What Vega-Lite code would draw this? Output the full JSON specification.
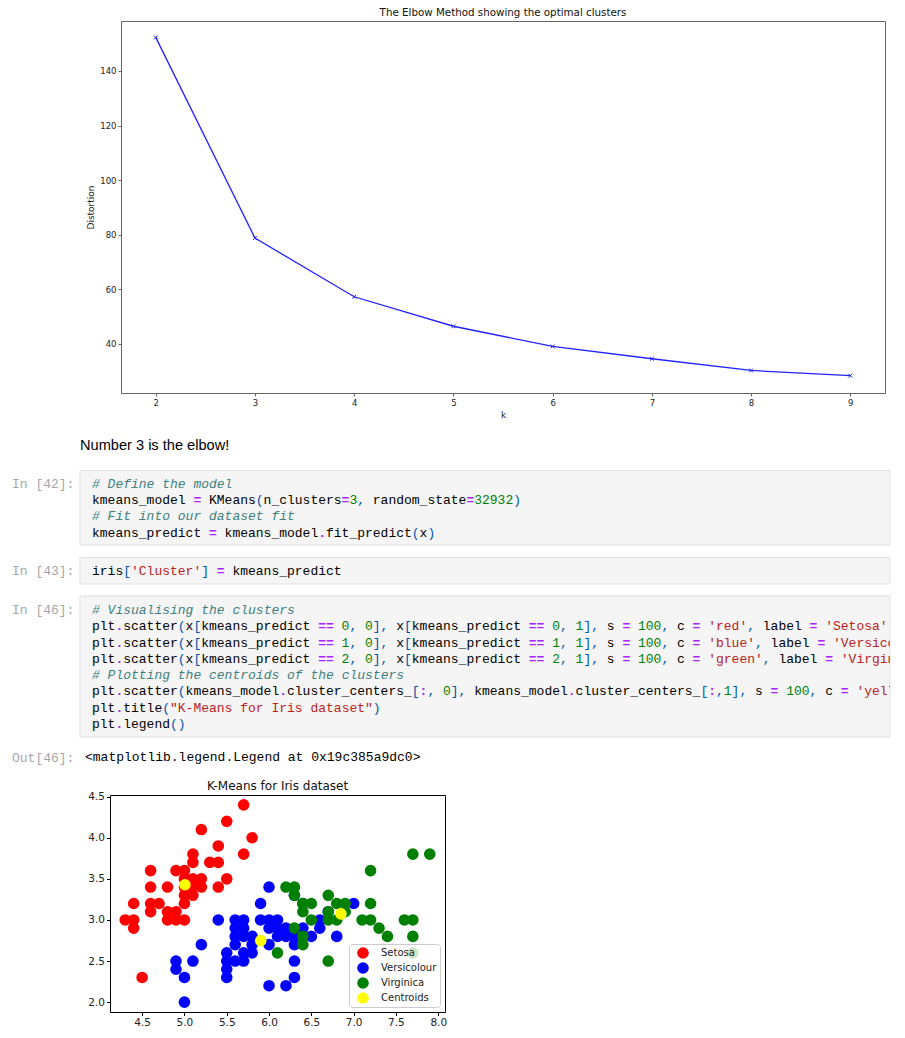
{
  "$schema": "https://vega.github.io/schema/vega-lite/v6.json",
  "background": "white",
  "padding": 0,
  "bounds": "flush",
  "spacing": 0,
  "config": {
    "view": {"stroke": null},
    "axis": {"grid": false, "labelFont": "DejaVu Sans", "titleFont": "DejaVu Sans", "titleFontWeight": "normal", "labelColor": "#222", "titleColor": "#222", "labelFlush": false, "labelOverlap": false}
  },
  "resolve": {"scale": {"color": "independent"}},
  "datasets": {
    "elbow": [
      {"k": 2, "distortion": 152.3},
      {"k": 3, "distortion": 78.8},
      {"k": 4, "distortion": 57.3},
      {"k": 5, "distortion": 46.5},
      {"k": 6, "distortion": 39.1},
      {"k": 7, "distortion": 34.6},
      {"k": 8, "distortion": 30.3},
      {"k": 9, "distortion": 28.4}
    ],
    "tokens": [
      {"cell": "md", "line": 0, "col": 0, "text": "Number 3 is the elbow!", "kind": "code"},

      {"cell": "42", "line": 0, "col": -10.26, "text": "In [42]:", "kind": "prompt"},
      {"cell": "42", "line": 0, "col": 0, "text": "# Define the model", "kind": "comment"},
      {"cell": "42", "line": 1, "col": 0, "text": "kmeans_model", "kind": "code"},
      {"cell": "42", "line": 1, "col": 13, "text": "=", "kind": "op"},
      {"cell": "42", "line": 1, "col": 15, "text": "KMeans", "kind": "code"},
      {"cell": "42", "line": 1, "col": 21, "text": "(", "kind": "paren"},
      {"cell": "42", "line": 1, "col": 22, "text": "n_clusters", "kind": "code"},
      {"cell": "42", "line": 1, "col": 32, "text": "=", "kind": "op"},
      {"cell": "42", "line": 1, "col": 33, "text": "3", "kind": "num"},
      {"cell": "42", "line": 1, "col": 34, "text": ",", "kind": "paren"},
      {"cell": "42", "line": 1, "col": 36, "text": "random_state", "kind": "code"},
      {"cell": "42", "line": 1, "col": 48, "text": "=", "kind": "op"},
      {"cell": "42", "line": 1, "col": 49, "text": "32932", "kind": "num"},
      {"cell": "42", "line": 1, "col": 54, "text": ")", "kind": "paren"},
      {"cell": "42", "line": 2, "col": 0, "text": "# Fit into our dataset fit", "kind": "comment"},
      {"cell": "42", "line": 3, "col": 0, "text": "kmeans_predict", "kind": "code"},
      {"cell": "42", "line": 3, "col": 15, "text": "=", "kind": "op"},
      {"cell": "42", "line": 3, "col": 17, "text": "kmeans_model", "kind": "code"},
      {"cell": "42", "line": 3, "col": 29, "text": ".", "kind": "op"},
      {"cell": "42", "line": 3, "col": 30, "text": "fit_predict", "kind": "code"},
      {"cell": "42", "line": 3, "col": 41, "text": "(", "kind": "paren"},
      {"cell": "42", "line": 3, "col": 42, "text": "x", "kind": "code"},
      {"cell": "42", "line": 3, "col": 43, "text": ")", "kind": "paren"},

      {"cell": "43", "line": 0, "col": -10.26, "text": "In [43]:", "kind": "prompt"},
      {"cell": "43", "line": 0, "col": 0, "text": "iris", "kind": "code"},
      {"cell": "43", "line": 0, "col": 4, "text": "[", "kind": "paren"},
      {"cell": "43", "line": 0, "col": 5, "text": "'Cluster'", "kind": "str"},
      {"cell": "43", "line": 0, "col": 14, "text": "]", "kind": "paren"},
      {"cell": "43", "line": 0, "col": 16, "text": "=", "kind": "op"},
      {"cell": "43", "line": 0, "col": 18, "text": "kmeans_predict", "kind": "code"},

      {"cell": "46", "line": 0, "col": -10.26, "text": "In [46]:", "kind": "prompt"},
      {"cell": "46", "line": 0, "col": 0, "text": "# Visualising the clusters", "kind": "comment"},

      {"cell": "46", "line": 1, "col": 0, "text": "plt", "kind": "code"},
      {"cell": "46", "line": 1, "col": 3, "text": ".", "kind": "op"},
      {"cell": "46", "line": 1, "col": 4, "text": "scatter", "kind": "code"},
      {"cell": "46", "line": 1, "col": 11, "text": "(", "kind": "paren"},
      {"cell": "46", "line": 1, "col": 12, "text": "x", "kind": "code"},
      {"cell": "46", "line": 1, "col": 13, "text": "[", "kind": "paren"},
      {"cell": "46", "line": 1, "col": 14, "text": "kmeans_predict", "kind": "code"},
      {"cell": "46", "line": 1, "col": 29, "text": "==", "kind": "op"},
      {"cell": "46", "line": 1, "col": 32, "text": "0", "kind": "num"},
      {"cell": "46", "line": 1, "col": 33, "text": ",", "kind": "paren"},
      {"cell": "46", "line": 1, "col": 35, "text": "0", "kind": "num"},
      {"cell": "46", "line": 1, "col": 36, "text": "],", "kind": "paren"},
      {"cell": "46", "line": 1, "col": 39, "text": "x", "kind": "code"},
      {"cell": "46", "line": 1, "col": 40, "text": "[", "kind": "paren"},
      {"cell": "46", "line": 1, "col": 41, "text": "kmeans_predict", "kind": "code"},
      {"cell": "46", "line": 1, "col": 56, "text": "==", "kind": "op"},
      {"cell": "46", "line": 1, "col": 59, "text": "0", "kind": "num"},
      {"cell": "46", "line": 1, "col": 60, "text": ",", "kind": "paren"},
      {"cell": "46", "line": 1, "col": 62, "text": "1", "kind": "num"},
      {"cell": "46", "line": 1, "col": 63, "text": "],", "kind": "paren"},
      {"cell": "46", "line": 1, "col": 66, "text": "s", "kind": "code"},
      {"cell": "46", "line": 1, "col": 68, "text": "=", "kind": "op"},
      {"cell": "46", "line": 1, "col": 70, "text": "100", "kind": "num"},
      {"cell": "46", "line": 1, "col": 73, "text": ",", "kind": "paren"},
      {"cell": "46", "line": 1, "col": 75, "text": "c", "kind": "code"},
      {"cell": "46", "line": 1, "col": 77, "text": "=", "kind": "op"},
      {"cell": "46", "line": 1, "col": 79, "text": "'red'", "kind": "str"},
      {"cell": "46", "line": 1, "col": 84, "text": ",", "kind": "paren"},
      {"cell": "46", "line": 1, "col": 86, "text": "label", "kind": "code"},
      {"cell": "46", "line": 1, "col": 92, "text": "=", "kind": "op"},
      {"cell": "46", "line": 1, "col": 94, "text": "'Setosa'", "kind": "str"},

      {"cell": "46", "line": 2, "col": 0, "text": "plt", "kind": "code"},
      {"cell": "46", "line": 2, "col": 3, "text": ".", "kind": "op"},
      {"cell": "46", "line": 2, "col": 4, "text": "scatter", "kind": "code"},
      {"cell": "46", "line": 2, "col": 11, "text": "(", "kind": "paren"},
      {"cell": "46", "line": 2, "col": 12, "text": "x", "kind": "code"},
      {"cell": "46", "line": 2, "col": 13, "text": "[", "kind": "paren"},
      {"cell": "46", "line": 2, "col": 14, "text": "kmeans_predict", "kind": "code"},
      {"cell": "46", "line": 2, "col": 29, "text": "==", "kind": "op"},
      {"cell": "46", "line": 2, "col": 32, "text": "1", "kind": "num"},
      {"cell": "46", "line": 2, "col": 33, "text": ",", "kind": "paren"},
      {"cell": "46", "line": 2, "col": 35, "text": "0", "kind": "num"},
      {"cell": "46", "line": 2, "col": 36, "text": "],", "kind": "paren"},
      {"cell": "46", "line": 2, "col": 39, "text": "x", "kind": "code"},
      {"cell": "46", "line": 2, "col": 40, "text": "[", "kind": "paren"},
      {"cell": "46", "line": 2, "col": 41, "text": "kmeans_predict", "kind": "code"},
      {"cell": "46", "line": 2, "col": 56, "text": "==", "kind": "op"},
      {"cell": "46", "line": 2, "col": 59, "text": "1", "kind": "num"},
      {"cell": "46", "line": 2, "col": 60, "text": ",", "kind": "paren"},
      {"cell": "46", "line": 2, "col": 62, "text": "1", "kind": "num"},
      {"cell": "46", "line": 2, "col": 63, "text": "],", "kind": "paren"},
      {"cell": "46", "line": 2, "col": 66, "text": "s", "kind": "code"},
      {"cell": "46", "line": 2, "col": 68, "text": "=", "kind": "op"},
      {"cell": "46", "line": 2, "col": 70, "text": "100", "kind": "num"},
      {"cell": "46", "line": 2, "col": 73, "text": ",", "kind": "paren"},
      {"cell": "46", "line": 2, "col": 75, "text": "c", "kind": "code"},
      {"cell": "46", "line": 2, "col": 77, "text": "=", "kind": "op"},
      {"cell": "46", "line": 2, "col": 79, "text": "'blue'", "kind": "str"},
      {"cell": "46", "line": 2, "col": 85, "text": ",", "kind": "paren"},
      {"cell": "46", "line": 2, "col": 87, "text": "label", "kind": "code"},
      {"cell": "46", "line": 2, "col": 93, "text": "=", "kind": "op"},
      {"cell": "46", "line": 2, "col": 95, "text": "'Versicolour'", "kind": "str"},

      {"cell": "46", "line": 3, "col": 0, "text": "plt", "kind": "code"},
      {"cell": "46", "line": 3, "col": 3, "text": ".", "kind": "op"},
      {"cell": "46", "line": 3, "col": 4, "text": "scatter", "kind": "code"},
      {"cell": "46", "line": 3, "col": 11, "text": "(", "kind": "paren"},
      {"cell": "46", "line": 3, "col": 12, "text": "x", "kind": "code"},
      {"cell": "46", "line": 3, "col": 13, "text": "[", "kind": "paren"},
      {"cell": "46", "line": 3, "col": 14, "text": "kmeans_predict", "kind": "code"},
      {"cell": "46", "line": 3, "col": 29, "text": "==", "kind": "op"},
      {"cell": "46", "line": 3, "col": 32, "text": "2", "kind": "num"},
      {"cell": "46", "line": 3, "col": 33, "text": ",", "kind": "paren"},
      {"cell": "46", "line": 3, "col": 35, "text": "0", "kind": "num"},
      {"cell": "46", "line": 3, "col": 36, "text": "],", "kind": "paren"},
      {"cell": "46", "line": 3, "col": 39, "text": "x", "kind": "code"},
      {"cell": "46", "line": 3, "col": 40, "text": "[", "kind": "paren"},
      {"cell": "46", "line": 3, "col": 41, "text": "kmeans_predict", "kind": "code"},
      {"cell": "46", "line": 3, "col": 56, "text": "==", "kind": "op"},
      {"cell": "46", "line": 3, "col": 59, "text": "2", "kind": "num"},
      {"cell": "46", "line": 3, "col": 60, "text": ",", "kind": "paren"},
      {"cell": "46", "line": 3, "col": 62, "text": "1", "kind": "num"},
      {"cell": "46", "line": 3, "col": 63, "text": "],", "kind": "paren"},
      {"cell": "46", "line": 3, "col": 66, "text": "s", "kind": "code"},
      {"cell": "46", "line": 3, "col": 68, "text": "=", "kind": "op"},
      {"cell": "46", "line": 3, "col": 70, "text": "100", "kind": "num"},
      {"cell": "46", "line": 3, "col": 73, "text": ",", "kind": "paren"},
      {"cell": "46", "line": 3, "col": 75, "text": "c", "kind": "code"},
      {"cell": "46", "line": 3, "col": 77, "text": "=", "kind": "op"},
      {"cell": "46", "line": 3, "col": 79, "text": "'green'", "kind": "str"},
      {"cell": "46", "line": 3, "col": 86, "text": ",", "kind": "paren"},
      {"cell": "46", "line": 3, "col": 88, "text": "label", "kind": "code"},
      {"cell": "46", "line": 3, "col": 94, "text": "=", "kind": "op"},
      {"cell": "46", "line": 3, "col": 96, "text": "'Virginica'", "kind": "str"},

      {"cell": "46", "line": 4, "col": 0, "text": "# Plotting the centroids of the clusters", "kind": "comment"},

      {"cell": "46", "line": 5, "col": 0, "text": "plt", "kind": "code"},
      {"cell": "46", "line": 5, "col": 3, "text": ".", "kind": "op"},
      {"cell": "46", "line": 5, "col": 4, "text": "scatter", "kind": "code"},
      {"cell": "46", "line": 5, "col": 11, "text": "(", "kind": "paren"},
      {"cell": "46", "line": 5, "col": 12, "text": "kmeans_model", "kind": "code"},
      {"cell": "46", "line": 5, "col": 24, "text": ".", "kind": "op"},
      {"cell": "46", "line": 5, "col": 25, "text": "cluster_centers_", "kind": "code"},
      {"cell": "46", "line": 5, "col": 41, "text": "[", "kind": "paren"},
      {"cell": "46", "line": 5, "col": 42, "text": ":", "kind": "op"},
      {"cell": "46", "line": 5, "col": 43, "text": ",", "kind": "paren"},
      {"cell": "46", "line": 5, "col": 45, "text": "0", "kind": "num"},
      {"cell": "46", "line": 5, "col": 46, "text": "],", "kind": "paren"},
      {"cell": "46", "line": 5, "col": 49, "text": "kmeans_model", "kind": "code"},
      {"cell": "46", "line": 5, "col": 61, "text": ".", "kind": "op"},
      {"cell": "46", "line": 5, "col": 62, "text": "cluster_centers_", "kind": "code"},
      {"cell": "46", "line": 5, "col": 78, "text": "[", "kind": "paren"},
      {"cell": "46", "line": 5, "col": 79, "text": ":", "kind": "op"},
      {"cell": "46", "line": 5, "col": 80, "text": ",", "kind": "paren"},
      {"cell": "46", "line": 5, "col": 81, "text": "1", "kind": "num"},
      {"cell": "46", "line": 5, "col": 82, "text": "],", "kind": "paren"},
      {"cell": "46", "line": 5, "col": 85, "text": "s", "kind": "code"},
      {"cell": "46", "line": 5, "col": 87, "text": "=", "kind": "op"},
      {"cell": "46", "line": 5, "col": 89, "text": "100", "kind": "num"},
      {"cell": "46", "line": 5, "col": 92, "text": ",", "kind": "paren"},
      {"cell": "46", "line": 5, "col": 94, "text": "c", "kind": "code"},
      {"cell": "46", "line": 5, "col": 96, "text": "=", "kind": "op"},
      {"cell": "46", "line": 5, "col": 98, "text": "'yellow'", "kind": "str"},

      {"cell": "46", "line": 6, "col": 0, "text": "plt", "kind": "code"},
      {"cell": "46", "line": 6, "col": 3, "text": ".", "kind": "op"},
      {"cell": "46", "line": 6, "col": 4, "text": "title", "kind": "code"},
      {"cell": "46", "line": 6, "col": 9, "text": "(", "kind": "paren"},
      {"cell": "46", "line": 6, "col": 10, "text": "\"K-Means for Iris dataset\"", "kind": "str"},
      {"cell": "46", "line": 6, "col": 36, "text": ")", "kind": "paren"},

      {"cell": "46", "line": 7, "col": 0, "text": "plt", "kind": "code"},
      {"cell": "46", "line": 7, "col": 3, "text": ".", "kind": "op"},
      {"cell": "46", "line": 7, "col": 4, "text": "legend", "kind": "code"},
      {"cell": "46", "line": 7, "col": 10, "text": "()", "kind": "paren"},

      {"cell": "46", "line": 9.09, "col": -10.26, "text": "Out[46]:", "kind": "prompt"},
      {"cell": "46", "line": 9.03, "col": -0.9, "text": "<matplotlib.legend.Legend at 0x19c385a9dc0>", "kind": "code"}
    ],
    "iris": [
      {"sepal_length": 5.1, "sepal_width": 3.5, "cluster": "Setosa"},
      {"sepal_length": 4.9, "sepal_width": 3.0, "cluster": "Setosa"},
      {"sepal_length": 4.7, "sepal_width": 3.2, "cluster": "Setosa"},
      {"sepal_length": 4.6, "sepal_width": 3.1, "cluster": "Setosa"},
      {"sepal_length": 5.0, "sepal_width": 3.6, "cluster": "Setosa"},
      {"sepal_length": 5.4, "sepal_width": 3.9, "cluster": "Setosa"},
      {"sepal_length": 4.6, "sepal_width": 3.4, "cluster": "Setosa"},
      {"sepal_length": 5.0, "sepal_width": 3.4, "cluster": "Setosa"},
      {"sepal_length": 4.4, "sepal_width": 2.9, "cluster": "Setosa"},
      {"sepal_length": 4.9, "sepal_width": 3.1, "cluster": "Setosa"},
      {"sepal_length": 5.4, "sepal_width": 3.7, "cluster": "Setosa"},
      {"sepal_length": 4.8, "sepal_width": 3.4, "cluster": "Setosa"},
      {"sepal_length": 4.8, "sepal_width": 3.0, "cluster": "Setosa"},
      {"sepal_length": 4.3, "sepal_width": 3.0, "cluster": "Setosa"},
      {"sepal_length": 5.8, "sepal_width": 4.0, "cluster": "Setosa"},
      {"sepal_length": 5.7, "sepal_width": 4.4, "cluster": "Setosa"},
      {"sepal_length": 5.7, "sepal_width": 3.8, "cluster": "Setosa"},
      {"sepal_length": 5.1, "sepal_width": 3.8, "cluster": "Setosa"},
      {"sepal_length": 5.4, "sepal_width": 3.4, "cluster": "Setosa"},
      {"sepal_length": 5.1, "sepal_width": 3.7, "cluster": "Setosa"},
      {"sepal_length": 4.6, "sepal_width": 3.6, "cluster": "Setosa"},
      {"sepal_length": 5.1, "sepal_width": 3.3, "cluster": "Setosa"},
      {"sepal_length": 5.0, "sepal_width": 3.0, "cluster": "Setosa"},
      {"sepal_length": 5.2, "sepal_width": 3.5, "cluster": "Setosa"},
      {"sepal_length": 5.2, "sepal_width": 3.4, "cluster": "Setosa"},
      {"sepal_length": 4.8, "sepal_width": 3.1, "cluster": "Setosa"},
      {"sepal_length": 5.2, "sepal_width": 4.1, "cluster": "Setosa"},
      {"sepal_length": 5.5, "sepal_width": 4.2, "cluster": "Setosa"},
      {"sepal_length": 5.0, "sepal_width": 3.2, "cluster": "Setosa"},
      {"sepal_length": 5.5, "sepal_width": 3.5, "cluster": "Setosa"},
      {"sepal_length": 4.9, "sepal_width": 3.6, "cluster": "Setosa"},
      {"sepal_length": 4.4, "sepal_width": 3.0, "cluster": "Setosa"},
      {"sepal_length": 5.1, "sepal_width": 3.4, "cluster": "Setosa"},
      {"sepal_length": 5.0, "sepal_width": 3.5, "cluster": "Setosa"},
      {"sepal_length": 4.5, "sepal_width": 2.3, "cluster": "Setosa"},
      {"sepal_length": 4.4, "sepal_width": 3.2, "cluster": "Setosa"},
      {"sepal_length": 4.6, "sepal_width": 3.2, "cluster": "Setosa"},
      {"sepal_length": 5.3, "sepal_width": 3.7, "cluster": "Setosa"},
      {"sepal_length": 5.0, "sepal_width": 3.3, "cluster": "Setosa"},

      {"sepal_length": 7.0, "sepal_width": 3.2, "cluster": "Versicolour"},
      {"sepal_length": 6.4, "sepal_width": 3.2, "cluster": "Versicolour"},
      {"sepal_length": 5.5, "sepal_width": 2.3, "cluster": "Versicolour"},
      {"sepal_length": 6.5, "sepal_width": 2.8, "cluster": "Versicolour"},
      {"sepal_length": 5.7, "sepal_width": 2.8, "cluster": "Versicolour"},
      {"sepal_length": 6.3, "sepal_width": 3.3, "cluster": "Versicolour"},
      {"sepal_length": 4.9, "sepal_width": 2.4, "cluster": "Versicolour"},
      {"sepal_length": 6.6, "sepal_width": 2.9, "cluster": "Versicolour"},
      {"sepal_length": 5.2, "sepal_width": 2.7, "cluster": "Versicolour"},
      {"sepal_length": 5.0, "sepal_width": 2.0, "cluster": "Versicolour"},
      {"sepal_length": 5.9, "sepal_width": 3.0, "cluster": "Versicolour"},
      {"sepal_length": 6.0, "sepal_width": 2.2, "cluster": "Versicolour"},
      {"sepal_length": 6.1, "sepal_width": 2.9, "cluster": "Versicolour"},
      {"sepal_length": 5.6, "sepal_width": 2.9, "cluster": "Versicolour"},
      {"sepal_length": 6.7, "sepal_width": 3.1, "cluster": "Versicolour"},
      {"sepal_length": 5.6, "sepal_width": 3.0, "cluster": "Versicolour"},
      {"sepal_length": 5.8, "sepal_width": 2.7, "cluster": "Versicolour"},
      {"sepal_length": 6.2, "sepal_width": 2.2, "cluster": "Versicolour"},
      {"sepal_length": 5.6, "sepal_width": 2.5, "cluster": "Versicolour"},
      {"sepal_length": 5.9, "sepal_width": 3.2, "cluster": "Versicolour"},
      {"sepal_length": 6.1, "sepal_width": 2.8, "cluster": "Versicolour"},
      {"sepal_length": 6.3, "sepal_width": 2.5, "cluster": "Versicolour"},
      {"sepal_length": 6.4, "sepal_width": 2.9, "cluster": "Versicolour"},
      {"sepal_length": 6.6, "sepal_width": 3.0, "cluster": "Versicolour"},
      {"sepal_length": 6.8, "sepal_width": 2.8, "cluster": "Versicolour"},
      {"sepal_length": 6.0, "sepal_width": 2.9, "cluster": "Versicolour"},
      {"sepal_length": 5.7, "sepal_width": 2.6, "cluster": "Versicolour"},
      {"sepal_length": 5.5, "sepal_width": 2.4, "cluster": "Versicolour"},
      {"sepal_length": 6.0, "sepal_width": 2.7, "cluster": "Versicolour"},
      {"sepal_length": 5.4, "sepal_width": 3.0, "cluster": "Versicolour"},
      {"sepal_length": 6.0, "sepal_width": 3.4, "cluster": "Versicolour"},
      {"sepal_length": 6.3, "sepal_width": 2.3, "cluster": "Versicolour"},
      {"sepal_length": 5.5, "sepal_width": 2.5, "cluster": "Versicolour"},
      {"sepal_length": 5.5, "sepal_width": 2.6, "cluster": "Versicolour"},
      {"sepal_length": 6.1, "sepal_width": 3.0, "cluster": "Versicolour"},
      {"sepal_length": 5.8, "sepal_width": 2.6, "cluster": "Versicolour"},
      {"sepal_length": 5.0, "sepal_width": 2.3, "cluster": "Versicolour"},
      {"sepal_length": 5.6, "sepal_width": 2.7, "cluster": "Versicolour"},
      {"sepal_length": 5.7, "sepal_width": 3.0, "cluster": "Versicolour"},
      {"sepal_length": 5.7, "sepal_width": 2.9, "cluster": "Versicolour"},
      {"sepal_length": 6.2, "sepal_width": 2.9, "cluster": "Versicolour"},
      {"sepal_length": 5.1, "sepal_width": 2.5, "cluster": "Versicolour"},
      {"sepal_length": 4.9, "sepal_width": 2.5, "cluster": "Versicolour"},
      {"sepal_length": 5.7, "sepal_width": 2.5, "cluster": "Versicolour"},
      {"sepal_length": 5.8, "sepal_width": 2.8, "cluster": "Versicolour"},
      {"sepal_length": 5.6, "sepal_width": 2.8, "cluster": "Versicolour"},
      {"sepal_length": 6.3, "sepal_width": 2.7, "cluster": "Versicolour"},
      {"sepal_length": 6.2, "sepal_width": 2.8, "cluster": "Versicolour"},
      {"sepal_length": 6.3, "sepal_width": 2.8, "cluster": "Versicolour"},
      {"sepal_length": 6.0, "sepal_width": 3.0, "cluster": "Versicolour"},

      {"sepal_length": 6.9, "sepal_width": 3.1, "cluster": "Virginica"},
      {"sepal_length": 6.7, "sepal_width": 3.0, "cluster": "Virginica"},
      {"sepal_length": 6.3, "sepal_width": 3.3, "cluster": "Virginica"},
      {"sepal_length": 7.1, "sepal_width": 3.0, "cluster": "Virginica"},
      {"sepal_length": 6.3, "sepal_width": 2.9, "cluster": "Virginica"},
      {"sepal_length": 6.5, "sepal_width": 3.0, "cluster": "Virginica"},
      {"sepal_length": 7.6, "sepal_width": 3.0, "cluster": "Virginica"},
      {"sepal_length": 7.3, "sepal_width": 2.9, "cluster": "Virginica"},
      {"sepal_length": 6.7, "sepal_width": 2.5, "cluster": "Virginica"},
      {"sepal_length": 7.2, "sepal_width": 3.6, "cluster": "Virginica"},
      {"sepal_length": 6.5, "sepal_width": 3.2, "cluster": "Virginica"},
      {"sepal_length": 6.4, "sepal_width": 2.7, "cluster": "Virginica"},
      {"sepal_length": 6.8, "sepal_width": 3.0, "cluster": "Virginica"},
      {"sepal_length": 6.4, "sepal_width": 3.2, "cluster": "Virginica"},
      {"sepal_length": 7.7, "sepal_width": 3.8, "cluster": "Virginica"},
      {"sepal_length": 7.7, "sepal_width": 2.6, "cluster": "Virginica"},
      {"sepal_length": 6.9, "sepal_width": 3.2, "cluster": "Virginica"},
      {"sepal_length": 7.7, "sepal_width": 2.8, "cluster": "Virginica"},
      {"sepal_length": 6.7, "sepal_width": 3.3, "cluster": "Virginica"},
      {"sepal_length": 7.2, "sepal_width": 3.2, "cluster": "Virginica"},
      {"sepal_length": 6.4, "sepal_width": 2.8, "cluster": "Virginica"},
      {"sepal_length": 7.2, "sepal_width": 3.0, "cluster": "Virginica"},
      {"sepal_length": 7.4, "sepal_width": 2.8, "cluster": "Virginica"},
      {"sepal_length": 7.9, "sepal_width": 3.8, "cluster": "Virginica"},
      {"sepal_length": 6.1, "sepal_width": 2.6, "cluster": "Virginica"},
      {"sepal_length": 7.7, "sepal_width": 3.0, "cluster": "Virginica"},
      {"sepal_length": 6.3, "sepal_width": 3.4, "cluster": "Virginica"},
      {"sepal_length": 6.4, "sepal_width": 3.1, "cluster": "Virginica"},
      {"sepal_length": 6.7, "sepal_width": 3.1, "cluster": "Virginica"},
      {"sepal_length": 6.8, "sepal_width": 3.2, "cluster": "Virginica"},
      {"sepal_length": 6.2, "sepal_width": 3.4, "cluster": "Virginica"},

      {"sepal_length": 5.006, "sepal_width": 3.428, "cluster": "Centroids"},
      {"sepal_length": 5.902, "sepal_width": 2.748, "cluster": "Centroids"},
      {"sepal_length": 6.85, "sepal_width": 3.074, "cluster": "Centroids"}
    ]
  },
  "vconcat": [
    {
      "width": 905,
      "height": 393,
      "title": {"text": "The Elbow Method showing the optimal clusters", "anchor": "middle", "frame": "group", "dx": 50.5, "dy": 22, "font": "DejaVu Sans", "fontSize": 10.3, "fontWeight": "normal", "color": "#111"},
      "data": {"name": "elbow"},
      "encoding": {
        "x": {"field": "k", "type": "quantitative", "scale": {"domain": [1.65, 9.35], "range": [121, 885], "nice": false, "zero": false}},
        "y": {"field": "distortion", "type": "quantitative", "scale": {"domain": [22.05, 158.3], "range": [393, 21], "nice": false, "zero": false}}
      },
      "layer": [
        {
          "mark": {"type": "line", "color": "#2222ff", "strokeWidth": 1.3},
          "encoding": {
            "x": {"field": "k", "type": "quantitative", "axis": {"orient": "bottom", "values": [2, 3, 4, 5, 6, 7, 8, 9], "format": "d", "title": "k", "titlePadding": 4, "labelFontSize": 8.5, "titleFontSize": 9, "tickSize": 3, "domainColor": "#666", "tickColor": "#666"}},
            "y": {"field": "distortion", "type": "quantitative", "axis": {"orient": "left", "offset": -121, "values": [40, 60, 80, 100, 120, 140], "title": "Distortion", "titlePadding": 4, "labelFontSize": 8.5, "titleFontSize": 9, "tickSize": 3, "domainColor": "#666", "tickColor": "#666"}}
          }
        },
        {
          "mark": {"type": "point", "shape": "M-0.5,-0.5L0.5,0.5M-0.5,0.5L0.5,-0.5", "size": 60, "filled": false, "color": "#2222ff", "strokeWidth": 1, "opacity": 1},
          "encoding": {
            "x": {"field": "k", "type": "quantitative", "axis": {"orient": "top", "offset": -21, "title": null, "labels": false, "ticks": false, "domainColor": "#666"}},
            "y": {"field": "distortion", "type": "quantitative", "axis": {"orient": "right", "offset": -20, "title": null, "labels": false, "ticks": false, "domainColor": "#666"}}
          }
        }
      ],
      "resolve": {"axis": {"x": "independent", "y": "independent"}}
    },
    {
      "width": 890,
      "height": 77,
      "data": {"name": "tokens"},
      "transform": [{"filter": "datum.cell === 'md'"}],
      "mark": {"type": "text", "font": "Liberation Sans", "fontSize": 14.6, "align": "left", "baseline": "middle", "color": "#000"},
      "encoding": {
        "x": {"field": "col", "type": "quantitative", "axis": null, "scale": {"domain": [0, 1], "range": [80, 90], "zero": false}},
        "y": {"field": "line", "type": "quantitative", "axis": null, "scale": {"domain": [0, 1], "range": [53, 63], "zero": false}},
        "text": {"field": "text"}
      }
    },
    {
      "width": 890,
      "height": 87,
      "layer": [
        {
          "data": {"values": [{"cell": "42"}]},
          "mark": {"type": "rect", "fill": "#f5f5f5", "stroke": "#e0e0e0"},
          "encoding": {
            "x": {"datum": -1.54, "axis": null, "scale": {"domain": [0, 100], "range": [92, 872], "zero": false}},
            "x2": {"datum": 102.3},
            "y": {"datum": -0.8, "axis": null, "scale": {"domain": [0, 3], "range": [13.5, 62.5], "zero": false}},
            "y2": {"datum": 3.77}
          }
        },
        {
          "data": {"name": "tokens"},
          "transform": [{"filter": "datum.cell === '42'"}],
          "mark": {"type": "text", "clip": true, "font": "Liberation Mono", "fontSize": 13, "align": "left", "baseline": "middle", "fontStyle": {"expr": "datum.kind === 'comment' ? 'italic' : 'normal'"}, "fontWeight": {"expr": "datum.kind === 'op' ? 'bold' : 'normal'"}},
          "encoding": {
            "x": {"field": "col", "type": "quantitative"},
            "y": {"field": "line", "type": "quantitative"},
            "text": {"field": "text"},
            "color": {"field": "kind", "legend": null, "scale": {"domain": ["code", "op", "num", "str", "paren", "comment", "prompt"], "range": ["#000000", "#aa22ff", "#008000", "#ba2121", "#0055aa", "#408080", "#a6a6a6"]}}
          }
        }
      ]
    },
    {
      "width": 890,
      "height": 39,
      "layer": [
        {
          "data": {"values": [{"cell": "43"}]},
          "mark": {"type": "rect", "fill": "#f5f5f5", "stroke": "#e0e0e0"},
          "encoding": {
            "x": {"datum": -1.54, "axis": null, "scale": {"domain": [0, 100], "range": [92, 872], "zero": false}},
            "x2": {"datum": 102.3},
            "y": {"datum": -0.8, "axis": null, "scale": {"domain": [0, 1], "range": [13.5, 29.8], "zero": false}},
            "y2": {"datum": 0.83}
          }
        },
        {
          "data": {"name": "tokens"},
          "transform": [{"filter": "datum.cell === '43'"}],
          "mark": {"type": "text", "clip": true, "font": "Liberation Mono", "fontSize": 13, "align": "left", "baseline": "middle", "fontStyle": {"expr": "datum.kind === 'comment' ? 'italic' : 'normal'"}, "fontWeight": {"expr": "datum.kind === 'op' ? 'bold' : 'normal'"}},
          "encoding": {
            "x": {"field": "col", "type": "quantitative"},
            "y": {"field": "line", "type": "quantitative"},
            "text": {"field": "text"},
            "color": {"field": "kind", "legend": null, "scale": {"domain": ["code", "op", "num", "str", "paren", "comment", "prompt"], "range": ["#000000", "#aa22ff", "#008000", "#ba2121", "#0055aa", "#408080", "#a6a6a6"]}}
          }
        }
      ]
    },
    {
      "width": 890,
      "height": 179,
      "layer": [
        {
          "data": {"values": [{"cell": "46"}]},
          "mark": {"type": "rect", "fill": "#f5f5f5", "stroke": "#e0e0e0"},
          "encoding": {
            "x": {"datum": -1.54, "axis": null, "scale": {"domain": [0, 100], "range": [92, 872], "zero": false}},
            "x2": {"datum": 102.3},
            "y": {"datum": -0.86, "axis": null, "scale": {"domain": [0, 7], "range": [14, 128], "zero": false}},
            "y2": {"datum": 7.8}
          }
        },
        {
          "data": {"name": "tokens"},
          "transform": [{"filter": "datum.cell === '46'"}],
          "mark": {"type": "text", "clip": true, "font": "Liberation Mono", "fontSize": 13, "align": "left", "baseline": "middle", "fontStyle": {"expr": "datum.kind === 'comment' ? 'italic' : 'normal'"}, "fontWeight": {"expr": "datum.kind === 'op' ? 'bold' : 'normal'"}},
          "encoding": {
            "x": {"field": "col", "type": "quantitative"},
            "y": {"field": "line", "type": "quantitative"},
            "text": {"field": "text"},
            "color": {"field": "kind", "legend": null, "scale": {"domain": ["code", "op", "num", "str", "paren", "comment", "prompt"], "range": ["#000000", "#aa22ff", "#008000", "#ba2121", "#0055aa", "#408080", "#a6a6a6"]}}
          }
        }
      ]
    },
    {
      "width": 905,
      "height": 237,
      "title": {"text": "K-Means for Iris dataset", "anchor": "middle", "frame": "group", "dx": -175, "dy": 22, "font": "DejaVu Sans", "fontSize": 12, "fontWeight": "normal", "color": "#111"},
      "data": {"name": "iris"},
      "encoding": {
        "x": {"field": "sepal_length", "type": "quantitative", "scale": {"domain": [4.12, 8.08], "range": [110, 445], "nice": false, "zero": false}},
        "y": {"field": "sepal_width", "type": "quantitative", "scale": {"domain": [1.88, 4.52], "range": [237, 20], "nice": false, "zero": false}}
      },
      "layer": [
        {
          "mark": {"type": "point", "filled": true, "size": 135, "opacity": 1},
          "encoding": {
            "x": {"field": "sepal_length", "type": "quantitative", "axis": {"orient": "bottom", "values": [4.5, 5.0, 5.5, 6.0, 6.5, 7.0, 7.5, 8.0], "format": ".1f", "title": null, "labelFontSize": 10.5, "tickSize": 3.5, "domainColor": "#000", "tickColor": "#000"}},
            "y": {"field": "sepal_width", "type": "quantitative", "axis": {"orient": "left", "offset": -110, "values": [2.0, 2.5, 3.0, 3.5, 4.0, 4.5], "format": ".1f", "title": null, "labelFontSize": 10.5, "tickSize": 3.5, "domainColor": "#000", "tickColor": "#000"}},
            "color": {
              "field": "cluster",
              "scale": {"domain": ["Setosa", "Versicolour", "Virginica", "Centroids"], "range": ["#ff0000", "#0000ff", "#008000", "#ffff00"]},
              "legend": {"orient": "none", "legendX": 349, "legendY": 169, "title": null, "fillColor": "rgba(255,255,255,0.8)", "strokeColor": "#cccccc", "cornerRadius": 3, "padding": 3, "symbolType": "circle", "symbolSize": 135, "symbolStrokeWidth": 0, "symbolOffset": 5, "labelFont": "DejaVu Sans", "labelFontSize": 10, "labelColor": "#222", "labelOffset": 12, "rowPadding": 3}
            }
          }
        },
        {
          "transform": [{"filter": "false"}],
          "mark": {"type": "point"},
          "encoding": {
            "x": {"field": "sepal_length", "type": "quantitative", "axis": {"orient": "top", "offset": -20, "title": null, "labels": false, "ticks": false, "domainColor": "#000"}},
            "y": {"field": "sepal_width", "type": "quantitative", "axis": {"orient": "right", "offset": -460, "title": null, "labels": false, "ticks": false, "domainColor": "#000"}}
          }
        }
      ],
      "resolve": {"axis": {"x": "independent", "y": "independent"}}
    }
  ]
}
